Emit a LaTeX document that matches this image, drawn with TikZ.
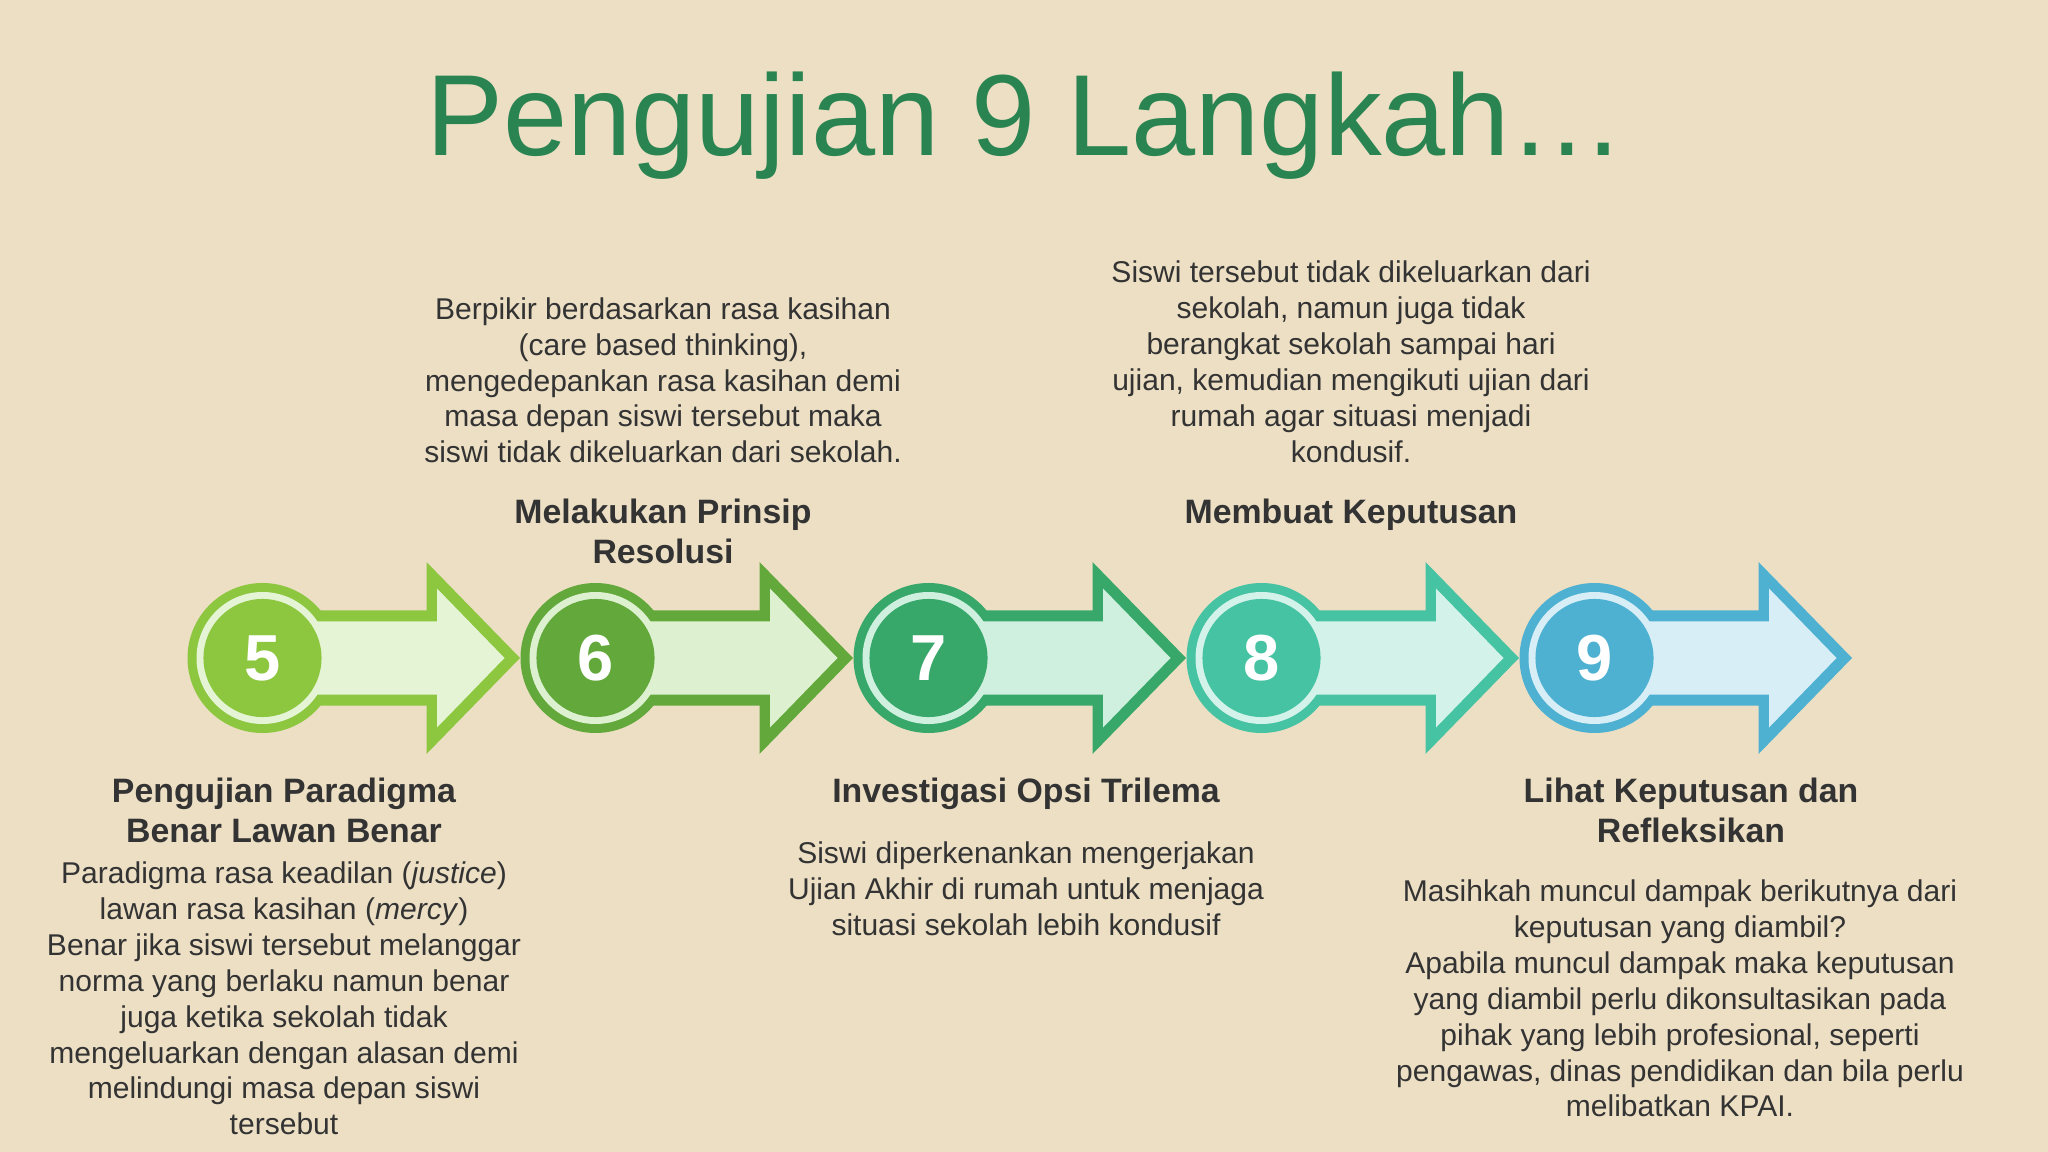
\documentclass[tikz,border=0pt]{standalone}
\usepackage{fontspec}
\setmainfont{Liberation Sans}
\definecolor{paper}{RGB}{236,223,196}
\definecolor{titlegreen}{RGB}{42,132,82}
\definecolor{ink}{RGB}{51,51,51}
\definecolor{cfive}{RGB}{141,198,63}
\definecolor{pfive}{RGB}{228,244,212}
\definecolor{csix}{RGB}{98,168,58}
\definecolor{psix}{RGB}{221,240,208}
\definecolor{cseven}{RGB}{56,168,106}
\definecolor{pseven}{RGB}{207,240,223}
\definecolor{ceight}{RGB}{70,195,162}
\definecolor{peight}{RGB}{211,242,233}
\definecolor{cnine}{RGB}{78,177,209}
\definecolor{pnine}{RGB}{215,238,247}

\begin{document}
\begin{tikzpicture}[
  x=0.01cm,
  y=-0.01cm,
  bodytext/.style={
    anchor=north,
    align=center,
    inner sep=0pt,
    text=ink,
    font=\fontsize{8.54}{10.19}\selectfont
  },
  headtext/.style={
    bodytext,
    font=\bfseries\fontsize{9.62}{11.38}\selectfont
  },
  numdot/.style={
    circle,
    minimum size=1.18cm,
    inner sep=0pt,
    text=white,
    font=\bfseries\fontsize{18.5}{18.5}\selectfont
  }
]
\useasboundingbox (0,0) rectangle (2048,1152);
\fill[paper] (0,0) rectangle (2048,1152);

\node[anchor=base, text=titlegreen, font=\fontsize{32.8}{36}\selectfont] (title) at (1026,156) {Pengujian 9 Langkah…};

% step arrows
\foreach \k/\n/\main/\pale in {0/5/cfive/pfive, 1/6/csix/psix, 2/7/cseven/pseven, 3/8/ceight/peight, 4/9/cnine/pnine}{
  \begin{scope}[shift={(262.5+333*\k,658)}]
    \fill[\main] (0,-47.7) -- (164,-47.7) -- (164,-96) -- (257.5,0) -- (164,96) -- (164,47.7) -- (0,47.7) -- cycle;
    \fill[\main] (0,0) circle (75);
    \fill[\pale] (0,-36.7) -- (174.5,-36.7) -- (174.5,-69.5) -- (242,0) -- (174.5,69.5) -- (174.5,36.7) -- (0,36.7) -- cycle;
    \fill[\pale] (0,0) circle (66);
    \node[numdot, fill=\main] (num\n) at (0,0) {\n};
  \end{scope}
}

\node[headtext] (head5) at (284,777.5) {Pengujian Paradigma\\Benar Lawan Benar};
\node[bodytext] (text5) at (284,861.5) {Paradigma rasa keadilan (\textit{justice})\\lawan rasa kasihan (\textit{mercy})\\Benar jika siswi tersebut melanggar\\norma yang berlaku namun benar\\juga ketika sekolah tidak\\mengeluarkan dengan alasan demi\\melindungi masa depan siswi\\tersebut};

\node[headtext] (head6) at (663,498) {Melakukan Prinsip\\Resolusi};
\node[bodytext] (text6) at (663,297) {Berpikir berdasarkan rasa kasihan\\(care based thinking),\\mengedepankan rasa kasihan demi\\masa depan siswi tersebut maka\\siswi tidak dikeluarkan dari sekolah.};

\node[headtext] (head7) at (1026,777.5) {Investigasi Opsi Trilema};
\node[bodytext] (text7) at (1026,841.5) {Siswi diperkenankan mengerjakan\\Ujian Akhir di rumah untuk menjaga\\situasi sekolah lebih kondusif};

\node[headtext] (head8) at (1351,498) {Membuat Keputusan};
\node[bodytext] (text8) at (1351,260.5) {Siswi tersebut tidak dikeluarkan dari\\sekolah, namun juga tidak\\berangkat sekolah sampai hari\\ujian, kemudian mengikuti ujian dari\\rumah agar situasi menjadi\\kondusif.};

\node[headtext] (head9) at (1691,777.5) {Lihat Keputusan dan\\Refleksikan};
\node[bodytext] (text9) at (1680,879.5) {Masihkah muncul dampak berikutnya dari\\keputusan yang diambil?\\Apabila muncul dampak maka keputusan\\yang diambil perlu dikonsultasikan pada\\pihak yang lebih profesional, seperti\\pengawas, dinas pendidikan dan bila perlu\\melibatkan KPAI.};
\end{tikzpicture}
\end{document}
